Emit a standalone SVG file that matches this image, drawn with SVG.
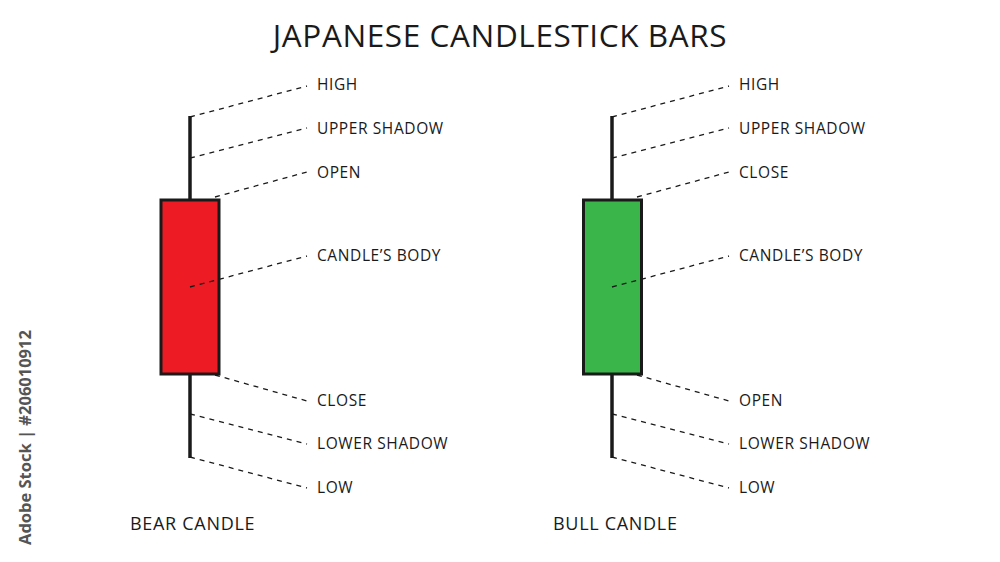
<svg xmlns="http://www.w3.org/2000/svg" width="1000" height="562" viewBox="0 0 1000 562">
<style>
.lbl{font-family:"Open Sans","Noto Sans",sans-serif;font-size:15.5px;fill:#1a1a1a;letter-spacing:0.6px}
.cap{font-family:"Open Sans","Noto Sans",sans-serif;font-size:18px;fill:#1a1a1a;letter-spacing:0.7px}
.title{font-family:"Open Sans","Noto Sans",sans-serif;font-size:31.5px;fill:#1a1a1a;letter-spacing:0.6px}
.wick{stroke:#1a1a1a;stroke-width:3.5;fill:none}
.body{stroke:#1a1a1a;stroke-width:3}
.dash{stroke:#1a1a1a;stroke-width:1.3;stroke-dasharray:5 5;fill:none}
.wm{font-family:"Open Sans","Noto Sans",sans-serif;font-size:16.5px;fill:#555;font-weight:bold}
</style>
<rect width="1000" height="562" fill="#ffffff"/>
<text class="title" x="500" y="47" text-anchor="middle">JAPANESE CANDLESTICK BARS</text>
<g id="bear">
<line class="wick" x1="190" y1="116" x2="190" y2="458"/>
<rect class="body" x="161" y="200" width="58" height="174" fill="#ed1c24"/>
<text class="cap" x="130" y="530">BEAR CANDLE</text>
</g>
<g id="bull">
<line class="wick" x1="612" y1="116" x2="612" y2="458"/>
<rect class="body" x="583.5" y="200" width="58" height="174" fill="#39b54a"/>
<text class="cap" x="553" y="530">BULL CANDLE</text>
</g>
<g id="connectors">
<path class="dash" d="M190 117 L307 86 M190 158 L307 128 M215 197 L307 172 M190 287 L307 256 M215 375 L307 401 M190 414 L307 444 M190 457 L307 488"/>
<path class="dash" d="M612 117 L729 86 M612 158 L729 128 M637 197 L729 172 M612 287 L729 256 M637 375 L729 401 M612 414 L729 444 M612 457 L729 488"/>
</g>
<g id="bear-labels">
<text class="lbl" x="317" y="90">HIGH</text>
<text class="lbl" x="317" y="134">UPPER SHADOW</text>
<text class="lbl" x="317" y="178">OPEN</text>
<text class="lbl" x="317" y="261">CANDLE’S BODY</text>
<text class="lbl" x="317" y="406">CLOSE</text>
<text class="lbl" x="317" y="449">LOWER SHADOW</text>
<text class="lbl" x="317" y="493">LOW</text>
</g>
<g id="bull-labels">
<text class="lbl" x="739" y="90">HIGH</text>
<text class="lbl" x="739" y="134">UPPER SHADOW</text>
<text class="lbl" x="739" y="178">CLOSE</text>
<text class="lbl" x="739" y="261">CANDLE’S BODY</text>
<text class="lbl" x="739" y="406">OPEN</text>
<text class="lbl" x="739" y="449">LOWER SHADOW</text>
<text class="lbl" x="739" y="493">LOW</text>
</g>
<text class="wm" transform="translate(31,545) rotate(-90)">Adobe Stock | #206010912</text>
</svg>
